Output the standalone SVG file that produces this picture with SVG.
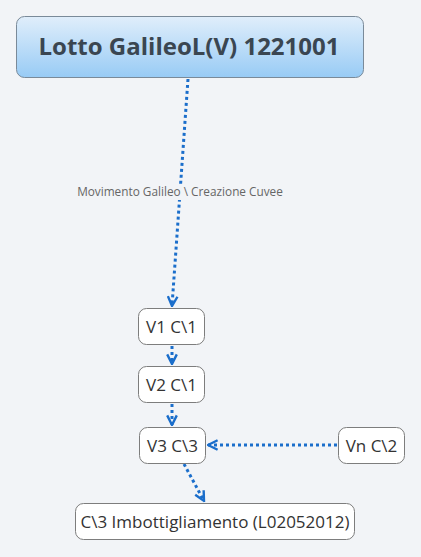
<svg xmlns="http://www.w3.org/2000/svg" width="421" height="557" viewBox="0 0 421 557">
<style>
.node rect{fill:#ffffff;stroke:#7d7d7d;stroke-width:1}
.node text{font-family:"Open Sans","Noto Sans",sans-serif;font-size:17px;fill:#333333;text-anchor:middle}
.conn{fill:none;stroke:#1b6ecb;stroke-width:3;stroke-dasharray:3 3;marker-end:url(#arr)}
.lbl{font-family:"Open Sans","Noto Sans",sans-serif;font-size:11.8px;fill:#666666;text-anchor:middle}
</style>
<defs>
<linearGradient id="g" x1="0" y1="0" x2="0" y2="1">
<stop offset="0" stop-color="#e0eefb"/>
<stop offset="1" stop-color="#98cbf5"/>
</linearGradient>
<marker id="arr" viewBox="0 0 10 10" refX="9" refY="5" markerWidth="4" markerHeight="4" orient="auto" markerUnits="strokeWidth">
<path d="M1,1 L9,5 L1,9" fill="none" stroke="#1b6ecb" stroke-width="2"/>
</marker>
</defs>
<rect width="421" height="557" fill="#f2f4f7"/>
<g id="connectors">
<path class="conn" d="M188,79 L172,306"/>
<path class="conn" d="M172,346 L172,364"/>
<path class="conn" d="M172,404 L172,425"/>
<path class="conn" d="M337,445 L208,445"/>
<path class="conn" d="M184,464 L204,501"/>
<rect x="75" y="184" width="210" height="16" fill="#f2f4f7"/>
<text class="lbl" x="180" y="196">Movimento Galileo \ Creazione Cuvee</text>
</g>
<g id="root">
<rect x="16.5" y="16.5" width="347" height="61" rx="8" fill="url(#g)" stroke="#7a8a99" stroke-width="1"/>
<text x="189" y="55" font-family="Open Sans, Noto Sans, sans-serif" font-size="24" font-weight="bold" fill="#3a4651" text-anchor="middle">Lotto GalileoL(V) 1221001</text>
</g>
<g id="v1" class="node"><rect x="138.5" y="308.5" width="66" height="36" rx="8"/><text x="171.5" y="333">V1 C\1</text></g>
<g id="v2" class="node"><rect x="138.5" y="366.5" width="66" height="36" rx="8"/><text x="171.5" y="391">V2 C\1</text></g>
<g id="v3" class="node"><rect x="139.5" y="427.5" width="66" height="36" rx="8"/><text x="172.5" y="452">V3 C\3</text></g>
<g id="vn" class="node"><rect x="338.5" y="427.5" width="66" height="36" rx="8"/><text x="371.5" y="452">Vn C\2</text></g>
<g id="c3" class="node"><rect x="75.5" y="503.5" width="279" height="36" rx="8"/><text x="215" y="528" font-size="16.5">C\3 Imbottigliamento (L02052012)</text></g>
</svg>
